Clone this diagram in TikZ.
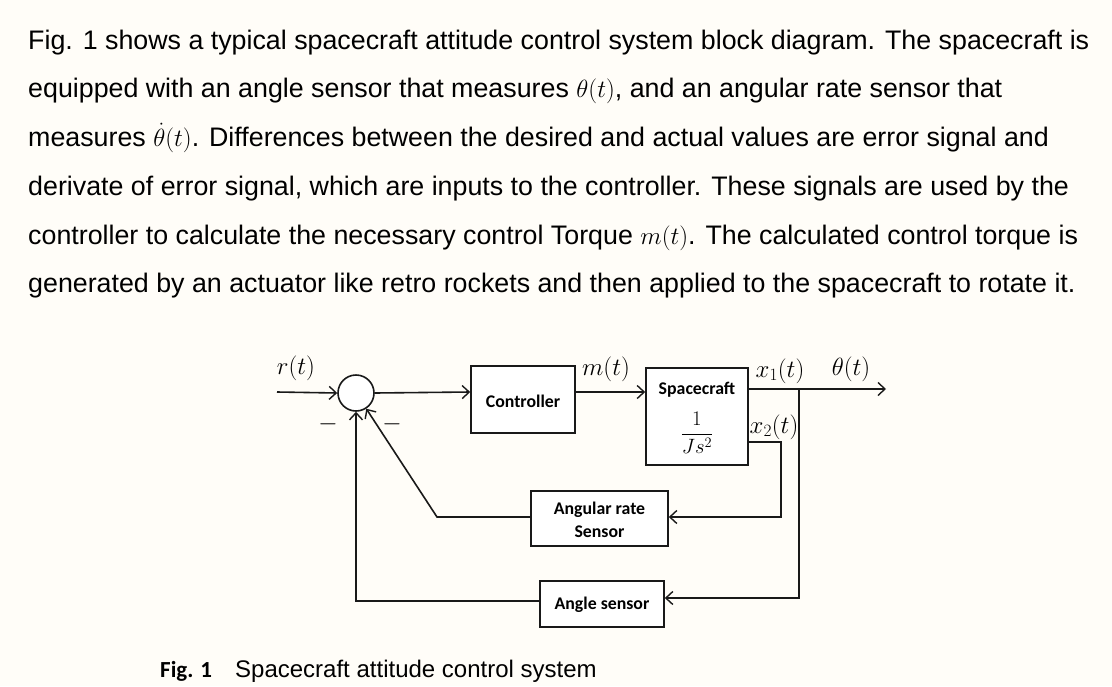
\documentclass[tikz,border=0pt]{standalone}
\usepackage{fontspec}
\setmainfont{Liberation Sans}
\newfontfamily\carlito{Carlito}
\usepackage{amsmath}
\usetikzlibrary{arrows.meta}
\definecolor{bgcream}{RGB}{255,253,248}
\definecolor{ink}{RGB}{25,25,25}
\begin{document}
\begin{tikzpicture}[x=1pt,y=-1pt,
  arr/.style={-{Straight Barb[length=7pt,width=13pt,line width=1.4pt]}},
  wire/.style={draw=ink,line width=1.6pt},
  blk/.style={draw=ink,line width=1.6pt,fill=white,inner sep=0pt},
  para/.style={anchor=base west,inner sep=0pt,font=\fontsize{26.8}{30}\selectfont},
  lbl/.style={inner sep=0pt,font=\fontsize{23}{26}\selectfont},
  btxt/.style={inner sep=0pt,font=\carlito\bfseries\fontsize{17.8}{21}\selectfont}]
\fill[bgcream] (0,0) rectangle (1112,686);
\useasboundingbox (0,0) rectangle (1112,686);
% paragraph
\node[para] (p1) at (28,49) {Fig. 1 shows a typical spacecraft attitude control system block diagram. The spacecraft is};
\node[para] (p2) at (28,97) {equipped with an angle sensor that measures $\theta(t)$, and an angular rate sensor that};
\node[para] (p3) at (28,146) {measures $\dot{\theta}(t)$. Differences between the desired and actual values are error signal and};
\node[para] (p4) at (28,195) {derivate of error signal, which are inputs to the controller. These signals are used by the};
\node[para] (p5) at (28,244) {controller to calculate the necessary control Torque $m(t)$. The calculated control torque is};
\node[para] (p6) at (28,292) {generated by an actuator like retro rockets and then applied to the spacecraft to rotate it.};
% blocks
\node[circle,draw=ink,line width=1.6pt,fill=white,minimum size=36pt,inner sep=0pt] (sum) at (356,393) {};
\node[blk,minimum width=104pt,minimum height=67pt] (ctrl) at (523,399.5) {};
\node[btxt] (ctrltxt) at (523,401) {Controller};
\node[blk,minimum width=102pt,minimum height=97pt] (sc) at (697,416.5) {};
\node[btxt] (sctxt) at (697,390) {Spacecraft};
\node[lbl,font=\fontsize{21}{24}\selectfont] (frac) at (697,433) {$\dfrac{1}{Js^2}$};
\node[blk,minimum width=137pt,minimum height=55pt] (rate) at (599.5,518.5) {};
\node[btxt,align=center] (ratetxt) at (599.5,519.5) {Angular rate\\[2pt]Sensor};
\node[blk,minimum width=124pt,minimum height=46pt] (angle) at (602,604) {};
\node[btxt] (angletxt) at (602,605) {Angle sensor};
% labels
\node[lbl] (rl) at (296,368) {$r(t)$};
\node[lbl] (ml) at (606,369) {$m(t)$};
\node[lbl] (x1l) at (780,371) {$x_1(t)$};
\node[lbl] (thl) at (851,369) {$\theta(t)$};
\node[lbl] (x2l) at (774,427) {$x_2(t)$};
\node[lbl] (m1) at (328,424) {$-$};
\node[lbl] (m2) at (392,424) {$-$};
% coordinates
\coordinate (in) at (277,392);
\coordinate (yin) at (0,392);
\coordinate (yout) at (0,389);
\coordinate (out) at (886,389);
\coordinate (br) at (799,389);
\coordinate (yx2) at (0,442);
\coordinate (x2c) at (781,442);
\coordinate (yrate) at (0,517);
\coordinate (yang) at (0,598);
\coordinate (yangl) at (0,601);
\coordinate (dj) at (437,517);
% connectors
\draw[wire,arr] (in) -- (sum.west);
\draw[wire,arr] (sum.east) -- (ctrl.west |- yin);
\draw[wire,arr] (ctrl.east |- yin) -- (sc.west |- yin);
\draw[wire,arr] (sc.east |- yout) -- (out);
\draw[wire,arr] (br) -- (br |- yang) -- (angle.east |- yang);
\draw[wire,arr] (sc.east |- yx2) -- (x2c) -- (x2c |- yrate) -- (rate.east |- yrate);
\draw[wire,arr] (rate.west |- yrate) -- (dj) -- (sum);
\draw[wire,arr] (angle.west |- yangl) -| (sum.south);
% caption
\node[anchor=base west,inner sep=0pt,font=\carlito\bfseries\fontsize{23}{27}\selectfont] (cap1) at (160,677) {Fig. 1};
\node[anchor=base west,inner sep=0pt,font=\fontsize{24}{28}\selectfont] (cap2) at (235,677) {Spacecraft attitude control system};
\end{tikzpicture}
\end{document}
